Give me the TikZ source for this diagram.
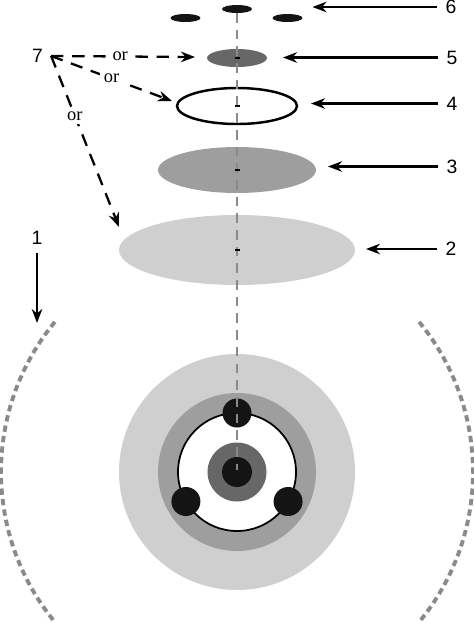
\documentclass[tikz,border=0pt]{standalone}
\usepackage{fontspec}
\setmainfont{Liberation Sans}
\newfontfamily\orfont{Liberation Serif}
\usetikzlibrary{shapes.geometric, arrows.meta}

\definecolor{lightdisc}{HTML}{CFCFCF}
\definecolor{middisc}{HTML}{9E9E9E}
\definecolor{darkdisc}{HTML}{676767}
\definecolor{blackdisc}{HTML}{141414}
\definecolor{axisgray}{HTML}{8A8A8A}

\tikzset{
    disc/.style={ellipse, inner sep=0pt, outer sep=0pt},
    numlabel/.style={inner sep=4.5pt, font=\fontsize{11}{13}\selectfont},
    orlabel/.style={fill=white, inner sep=2pt, font=\orfont\fontsize{10.5}{12}\selectfont},
    pointer/.style={line width=1.2pt, -{Stealth[length=8pt, width=6pt]}},
    orpointer/.style={line width=1.3pt, dash pattern=on 7pt off 5pt, -{Stealth[length=8pt, width=6pt]}},
    tick/.style={line width=1.1pt},
}

\begin{document}
\begin{tikzpicture}[x=0.02cm, y=-0.02cm]
            \useasboundingbox (0,0) rectangle (474,623);

            % bodies seen edge on
            \node[disc, fill=blackdisc, minimum width=6mm, minimum height=1.6mm] (e6c) at (237,9) {};
            \node[disc, fill=blackdisc, minimum width=6mm, minimum height=1.6mm] (e6l) at (185.5,18) {};
            \node[disc, fill=blackdisc, minimum width=6mm, minimum height=1.6mm] (e6r) at (287.5,18) {};
            \node[disc, fill=darkdisc, minimum width=12mm, minimum height=3.6mm] (e5) at (237,58) {};
            \node[disc, draw=black, line width=1.4pt, fill=white, minimum width=24mm, minimum height=7.2mm] (e4) at (237,106) {};
            \node[disc, fill=middisc, minimum width=31.6mm, minimum height=9.2mm] (e3) at (237,170) {};
            \node[disc, fill=lightdisc, minimum width=47.2mm, minimum height=14mm] (e2) at (237,250) {};

            % the same seen from above
            \fill[lightdisc] (237,472) circle (118);
            \fill[middisc] (237,472) circle (79);
            \filldraw[fill=white, draw=black, line width=1pt] (237,472) circle (59);
            \fill[darkdisc] (237,472) circle (29.5);
            \fill[blackdisc] (237,472) circle (15);
            \foreach \a in {30, 150, 270}
                {
                    \fill[blackdisc] (237,472) ++(\a:59) circle (14.5);
                }

            % outer boundary
            \draw[axisgray, line width=2.2pt, dash pattern=on 3.6pt off 2.4pt]
                (237,472) ++(219.5:236) arc[start angle=219.5, end angle=140.5, radius=236];
            \draw[axisgray, line width=2.2pt, dash pattern=on 3.6pt off 2.4pt]
                (237,472) ++(-39.5:236) arc[start angle=-39.5, end angle=39.5, radius=236];

            % axis
            \coordinate (axtop) at (237,13);
            \coordinate (axbot) at (237,470);
            \draw[axisgray, line width=1.3pt, dash pattern=on 5.5pt off 4pt] (axtop) -- (axbot);
            \foreach \e in {e5, e4, e3, e2}
                {
                    \draw[tick] (\e.center) ++(-2.5,0) -- ++(5,0);
                }

            % labels
            \node[numlabel] (n6) at (451,7) {6};
            \node[numlabel] (n5) at (452,57.5) {5};
            \node[numlabel] (n4) at (452,103.5) {4};
            \node[numlabel] (n3) at (452,166.5) {3};
            \node[numlabel] (n2) at (451,249) {2};
            \node[numlabel] (n1) at (37,238) {1};
            \node[numlabel] (n7) at (37.5,56) {7};

            \draw[pointer, shorten >=2mm] (n6) -- (n6 -| e6r.east);
            \draw[pointer, shorten >=3.2mm] (n5) -- (n5 -| e5.east);
            \draw[pointer, shorten >=2.8mm] (n4) -- (n4 -| e4.east);
            \draw[pointer, shorten >=2.4mm] (n3) -- (n3 -| e3.east);
            \draw[pointer, shorten >=2.2mm] (n2) -- (n2 -| e2.east);

            \coordinate (c1) at (37,323);
            \draw[pointer] (n1) -- (c1);

            \coordinate (t5) at (195,57);
            \coordinate (t4) at (172,101);
            \coordinate (t2) at (119,227);
            \draw[orpointer] (n7.east) -- node[orlabel, pos=0.48]{or} (t5);
            \draw[orpointer] (n7.east) -- node[orlabel, pos=0.5]{or} (t4);
            \draw[orpointer] (n7.east) -- node[orlabel, pos=0.35]{or} (t2);
        \end{tikzpicture}
\end{document}
